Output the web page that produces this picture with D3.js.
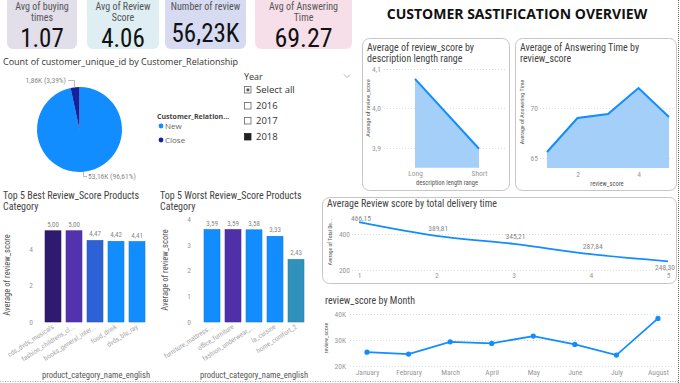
<!DOCTYPE html>
<html><head><meta charset="utf-8">
<script src="https://cdn.jsdelivr.net/npm/d3@7"></script>
<style>
body{margin:0;background:#fff;}
svg{display:block;}
</style></head>
<body>
<script>
// ---------- DATA ----------
const kpiLabels = [["Avg of buying","times"],["Avg of Review","Score"],["Number of review"],["Avg of Answering","Time"]];
const kpiValues = ["1.07","4.06","56,23K","69.27"];

const pieCategories = ["New","Close"];
const pieValues = [53160, 1860];
const pieLabels = ["53,16K (96,61%)","1,86K (3,39%)"];

const yearOptions = ["Select all","2016","2017","2018"];

const descCategories = ["Long","Short"];
const descValues = [4.075, 3.898];
const descTicks = [3.9, 4.0, 4.1];

const scoreCategories = [1,2,3,4,5];
const answerValues = [65.6, 69.0, 69.4, 72.0, 69.1];
const answerTicks = [65, 70];

const deliveryCategories = [1,2,3,4,5];
const deliveryValues = [466.15, 389.81, 345.21, 287.84, 248.30];
const deliveryTicks = [200, 400];

const months = ["January","February","March","April","May","June","July","August"];
const monthValues = [25300, 24600, 29300, 28700, 31500, 28300, 24200, 38300];
const monthTicks = [20000, 30000, 40000];

const bestCategories = ["cds_dvds_musicals","fashion_childrens_cl...","books_general_inter...","food_drink","dvds_blu_ray"];
const bestValues = [5.00, 5.00, 4.47, 4.42, 4.41];
const bestTicks = [0, 2, 4];

const worstCategories = ["furniture_mattress...","office_furniture","fashion_underwear_...","la_cuisine","home_comfort_2"];
const worstValues = [3.59, 3.59, 3.58, 3.33, 2.43];
const worstTicks = [0, 1, 2, 3, 4];

// ---------- STYLE ----------
const BLUE = "#118DFF";
const FILL = "#a3cff9";
const TF = "'Segoe UI','Open Sans',sans-serif";
const DF = "'Liberation Sans Narrow','Roboto Condensed',Roboto,sans-serif";
const fmt2 = v => v.toFixed(2).replace(".", ",");

const svg = d3.select("body").append("svg").attr("width",680).attr("height",383);

// page borders (dotted)
svg.append("line").attr("x1",678.5).attr("x2",678.5).attr("y1",0).attr("y2",383)
  .attr("stroke","#666").attr("stroke-dasharray","1,1");
svg.append("line").attr("x1",0).attr("x2",680).attr("y1",381.5).attr("y2",381.5)
  .attr("stroke","#aaa").attr("stroke-dasharray","1,1.5");

// ---------- KPI CARDS ----------
const kpiBoxes = [[7,70],[87,72],[165,81],[255,97]];
const kpiColors = ["#e2deea","#deeef3","#d6dbf2","#f7dfe9"];
const kpiBase = [47,47,42,47];
const kpiSize = [25,25,25,26];
kpiValues.forEach((v,i)=>{
  const [x,w] = kpiBoxes[i];
  const g = svg.append("g");
  g.append("rect").attr("x",x).attr("y",-8).attr("width",w).attr("height",57).attr("rx",6).attr("fill",kpiColors[i]);
  kpiLabels[i].forEach((t,j)=>{
    g.append("text").attr("x",x+w/2).attr("y",10+j*11).attr("text-anchor","middle")
      .attr("font-family",DF).attr("font-size",10).attr("fill","#555").text(t);
  });
  g.append("text").attr("x",x+w/2).attr("y",kpiBase[i]).attr("text-anchor","middle")
    .attr("font-family",DF).attr("font-size",kpiSize[i]).attr("fill","#111").text(v);
});

// ---------- MAIN TITLE ----------
svg.append("text").attr("x",517).attr("y",19).attr("text-anchor","middle")
  .attr("font-family",TF).attr("font-weight",700).attr("font-size",14).attr("fill","#111")
  .text("CUSTOMER SASTIFICATION OVERVIEW");

// ---------- PIE ----------
svg.append("text").attr("x",3).attr("y",65).attr("font-family",TF).attr("font-size",9).attr("fill","#333")
  .text("Count of customer_unique_id by Customer_Relationship");
const pieColor = d3.scaleOrdinal().domain(pieCategories).range([BLUE,"#12239E"]);
const pie = d3.pie().sort(null).value((d,i)=>pieValues[i]);
const arcs = pie(pieCategories);
const arc = d3.arc().innerRadius(0).outerRadius(42.5);
const pg = svg.append("g").attr("transform","translate(79.5,129.5)");
pg.selectAll("path").data(arcs).join("path").attr("d",arc).attr("fill",d=>pieColor(d.data));
// leader lines
svg.append("path").attr("d","M68,80.5H74.5V88").attr("fill","none").attr("stroke","#aaa").attr("stroke-width",0.8);
svg.append("path").attr("d","M83.5,172V176.5H87").attr("fill","none").attr("stroke","#aaa").attr("stroke-width",0.8);
svg.append("text").attr("x",66).attr("y",83).attr("text-anchor","end").attr("font-family",DF).attr("font-size",7.5).attr("fill","#888").text(pieLabels[1]);
svg.append("text").attr("x",88).attr("y",179).attr("font-family",DF).attr("font-size",7.5).attr("fill","#888").text(pieLabels[0]);
// legend
svg.append("text").attr("x",157).attr("y",119).attr("font-family",TF).attr("font-weight",700).attr("font-size",7).attr("fill","#444").text("Customer_Relation...");
pieCategories.forEach((c,i)=>{
  svg.append("circle").attr("cx",161).attr("cy",126+i*14).attr("r",2.4).attr("fill",pieColor(c));
  svg.append("text").attr("x",165).attr("y",129+i*14).attr("font-family",TF).attr("font-size",8).attr("fill","#666").text(c);
});

// ---------- SLICER ----------
svg.append("text").attr("x",244).attr("y",80).attr("font-family",TF).attr("font-size",9).attr("fill","#333").text("Year");
svg.append("path").attr("d","M344,74.5L347,77.5L350,74.5").attr("fill","none").attr("stroke","#999").attr("stroke-width",0.8);
yearOptions.forEach((t,i)=>{
  const yy = [86,102,117,133][i];
  svg.append("rect").attr("x",244.5).attr("y",yy+0.5).attr("width",6.5).attr("height",6.5)
    .attr("fill", i===3 ? "#222" : "#fff").attr("stroke", i===3?"#222":"#666").attr("stroke-width",0.8);
  if(i===0) svg.append("rect").attr("x",246.5).attr("y",yy+2.5).attr("width",2.8).attr("height",2.8).attr("fill","#555");
  svg.append("text").attr("x",256).attr("y",yy+7).attr("font-family",TF).attr("font-size",9.5).attr("fill","#333").text(t);
});

// helpers
function card(x,y,w,h){
  svg.append("rect").attr("x",x).attr("y",y).attr("width",w).attr("height",h).attr("rx",7)
    .attr("fill","#fff").attr("stroke","#c6c6c6").attr("stroke-width",1);
}
function title(x,y,lines,size){
  lines.forEach((t,i)=>svg.append("text").attr("x",x).attr("y",y+i*11).attr("font-family",DF)
    .attr("font-size",size||10).attr("fill","#444").text(t));
}
function grid(yScale,ticks,x1,x2){
  svg.append("g").selectAll("line").data(ticks).join("line")
    .attr("x1",x1).attr("x2",x2).attr("y1",d=>Math.round(yScale(d))+0.5).attr("y2",d=>Math.round(yScale(d))+0.5)
    .attr("stroke","#ddd").attr("stroke-dasharray","1,2");
}
function yAxis(yScale,ticks,x,format,size){
  const g = svg.append("g").attr("transform",`translate(${x},0)`)
    .call(d3.axisLeft(yScale).tickValues(ticks).tickSize(0).tickPadding(0).tickFormat(format));
  g.select(".domain").remove();
  g.selectAll("text").attr("font-family",DF).attr("font-size",size||7.5).attr("fill","#999");
  return g;
}
function xAxis(xScale,y,format,size){
  const g = svg.append("g").attr("transform",`translate(0,${y})`)
    .call(d3.axisBottom(xScale).tickSize(0).tickPadding(0).tickFormat(format));
  g.select(".domain").remove();
  g.selectAll("text").attr("font-family",DF).attr("font-size",size||7.5).attr("fill","#999");
  return g;
}
function vTitle(x,y,t,size){
  svg.append("text").attr("transform",`translate(${x},${y}) rotate(-90)`).attr("text-anchor","middle")
    .attr("font-family",DF).attr("font-size",size||6).attr("fill","#555").text(t);
}
function hTitle(x,y,t,size){
  svg.append("text").attr("x",x).attr("y",y).attr("text-anchor","middle")
    .attr("font-family",DF).attr("font-size",size||6.5).attr("fill","#555").text(t);
}

// ---------- AREA 1: description length ----------
card(362.5,38.5,147,152);
title(367,51,["Average of review_score by","description length range"]);
{
  const x = d3.scalePoint().domain(descCategories).range([415,479]);
  const y = d3.scaleLinear().domain([3.9,4.1]).range([148,69]);
  grid(y,descTicks,384,505);
  yAxis(y,descTicks,381,d=>d.toFixed(1).replace(".",","));
  const base = y(3.85);
  svg.append("path").datum(descCategories)
    .attr("d",d3.area().x(d=>x(d)).y0(base).y1((d,i)=>y(descValues[i])))
    .attr("fill",FILL);
  svg.append("path").datum(descCategories)
    .attr("d",d3.line().x(d=>x(d)).y((d,i)=>y(descValues[i])))
    .attr("fill","none").attr("stroke",BLUE).attr("stroke-width",2);
  xAxis(x,171);
  vTitle(370,108,"Average of review_score");
  hTitle(447,185,"description length range");
}

// ---------- AREA 2: answering time ----------
card(515.5,38.5,161,152);
title(520,51,["Average of Answering Time by","review_score"]);
{
  const x = d3.scalePoint().domain(scoreCategories).range([547,669]);
  const y = d3.scaleLinear().domain([65,70]).range([158,108]);
  grid(y,answerTicks,540,674);
  yAxis(y,answerTicks,538,d=>d);
  const base = y(64);
  svg.append("path").datum(scoreCategories)
    .attr("d",d3.area().x(d=>x(d)).y0(base).y1((d,i)=>y(answerValues[i])))
    .attr("fill",FILL);
  svg.append("path").datum(scoreCategories)
    .attr("d",d3.line().x(d=>x(d)).y((d,i)=>y(answerValues[i])))
    .attr("fill","none").attr("stroke",BLUE).attr("stroke-width",2);
  const xa = xAxis(x,172,d=>d);
  xa.selectAll(".tick").filter(d=>d%2===1).remove();
  vTitle(524,112,"Average of Answering Time");
  hTitle(607,186,"review_score");
}

// ---------- DELIVERY TIME ----------
card(322.5,197.5,354,86);
title(327,207,["Average Review score by total delivery time"]);
{
  const x = d3.scalePoint().domain(deliveryCategories).range([359,668]);
  const y = d3.scaleLinear().domain([200,400]).range([270,234]);
  grid(y,deliveryTicks,352,672);
  yAxis(y,deliveryTicks,350,d=>d);
  svg.append("path").datum(deliveryCategories)
    .attr("d",d3.line().curve(d3.curveMonotoneX).x(d=>x(d)).y((d,i)=>y(deliveryValues[i])))
    .attr("fill","none").attr("stroke",BLUE).attr("stroke-width",1.8);
  svg.append("g").selectAll("text").data(deliveryCategories).join("text")
    .attr("x",(d,i)=> i===4 ? x(d)-3 : x(d)+2)
    .attr("y",(d,i)=> i===4 ? y(deliveryValues[i])+9 : (i===0 ? y(deliveryValues[i])-1 : y(deliveryValues[i])-5))
    .attr("text-anchor","middle").attr("font-family",DF).attr("font-size",7.5).attr("fill","#888")
    .text((d,i)=>fmt2(deliveryValues[i]));
  xAxis(x,273,d=>d);
  vTitle(332,242,"Average of Total De...",5.5);
}

// ---------- MONTH ----------
title(325,304,["review_score by Month"]);
{
  const x = d3.scalePoint().domain(months).range([367,658]);
  const y = d3.scaleLinear().domain([20000,40000]).range([366,314]);
  grid(y,monthTicks,350,676);
  yAxis(y,monthTicks,346,d=>(d/1000)+"K");
  svg.append("path").datum(months)
    .attr("d",d3.line().x(d=>x(d)).y((d,i)=>y(monthValues[i])))
    .attr("fill","none").attr("stroke",BLUE).attr("stroke-width",1.8);
  svg.append("g").selectAll("circle").data(months).join("circle")
    .attr("cx",d=>x(d)).attr("cy",(d,i)=>y(monthValues[i])).attr("r",2.6).attr("fill",BLUE);
  xAxis(x,370,d=>d);
  vTitle(328,338,"review_score",6);
}

// ---------- BAR CHARTS ----------
function bars(cats,vals,colors,ticks,xr,yr,yAxisX,tx,tTitle,vtx,vty,axT){
  title(tx,199,tTitle);
  const x = d3.scaleBand().domain(cats).range(xr).paddingInner(0.24).paddingOuter(0.12);
  const y = d3.scaleLinear().domain([0,4]).range(yr);
  yAxis(y,ticks,yAxisX,d=>d,7.5);
  svg.append("g").selectAll("rect").data(cats).join("rect")
    .attr("x",d=>x(d)).attr("width",x.bandwidth())
    .attr("y",(d,i)=>y(vals[i])).attr("height",(d,i)=>y(0)-y(vals[i]))
    .attr("fill",(d,i)=>colors[i]).attr("stroke",(d,i)=>d3.color(colors[i]).darker(0.4)).attr("stroke-width",0.6);
  svg.append("g").selectAll("text").data(cats).join("text")
    .attr("x",d=>x(d)+x.bandwidth()/2).attr("y",(d,i)=>y(vals[i])-4)
    .attr("text-anchor","middle").attr("font-family",DF).attr("font-size",7).attr("fill","#888")
    .text((d,i)=>fmt2(vals[i]));
  const g = svg.append("g").attr("transform",`translate(0,${yr[0]+4})`)
    .call(d3.axisBottom(x).tickSize(0).tickPadding(0));
  g.select(".domain").remove();
  g.selectAll("text").attr("font-family",DF).attr("font-size",7).attr("fill","#aaa")
    .attr("text-anchor","end").attr("dy","0.35em").attr("transform","rotate(-33)");
  vTitle(vtx,vty,"Average of review_score",8.5);
  hTitle(axT,378,"product_category_name_english",8.5);
}
bars(bestCategories,bestValues,["#2e1a6e","#5233ad","#2d62d6",BLUE,BLUE],bestTicks,
     [42.5,147.5],[322,249],33,3,["Top 5 Best Review_Score Products","Category"],10,275,96);
bars(worstCategories,worstValues,[BLUE,"#4f30a8",BLUE,BLUE,"#2f92bd"],worstTicks,
     [201.5,306.5],[322,219],191,160,["Top 5 Worst Review_Score Products","Category"],168,270,254);
</script>
</body></html>
